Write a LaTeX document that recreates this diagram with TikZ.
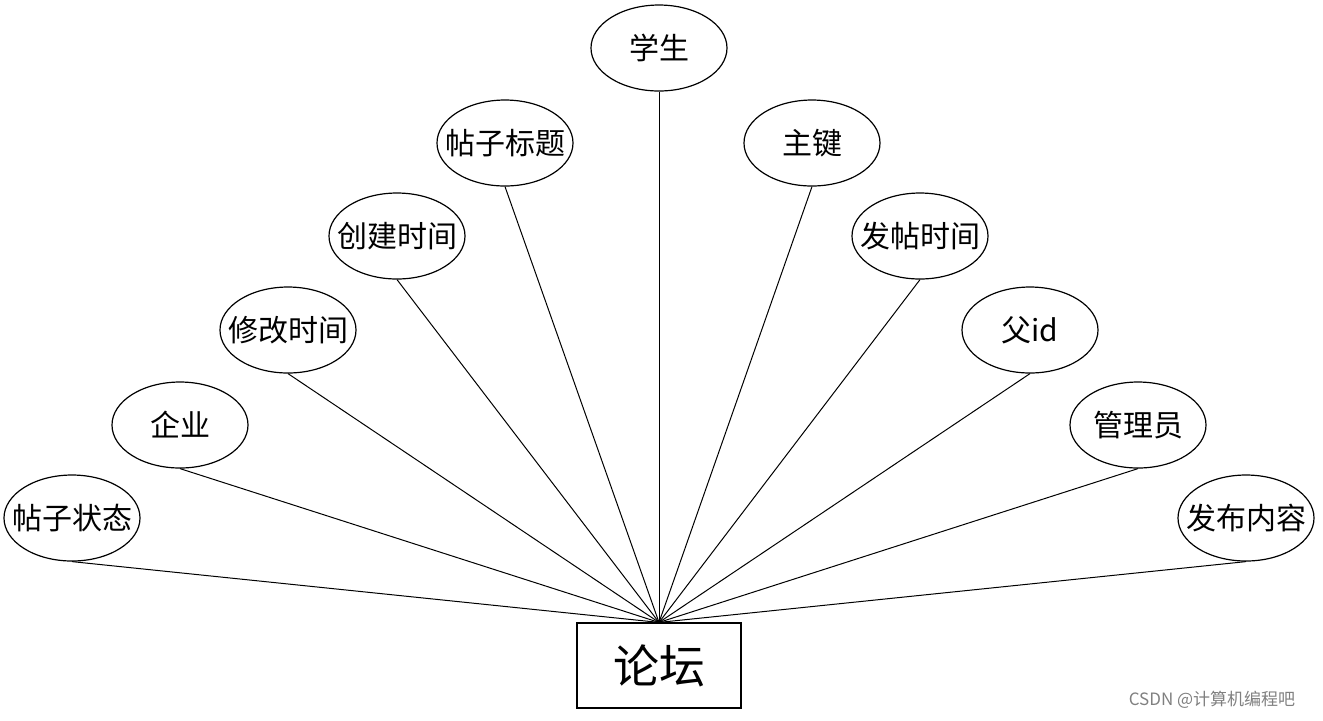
\documentclass[tikz,border=0pt]{standalone}
\usepackage{fontspec}
\setmainfont{Noto Sans CJK SC}
\usetikzlibrary{shapes.geometric}
\begin{document}
\begin{tikzpicture}[x=0.5pt,y=-0.5pt,
 attr/.style={draw,ellipse,minimum width=68pt,minimum height=43pt,inner xsep=-6.5pt,inner ysep=0pt,font=\fontsize{15}{15}\selectfont,line width=0.6pt},
 ent/.style={draw,rectangle,minimum width=82pt,minimum height=42.5pt,font=\fontsize{23}{23}\selectfont,line width=0.6pt},
 lnk/.style={line width=0.5pt}]
\useasboundingbox (0,0) rectangle (1323,720);
\node[ent] (r) at (659,665.5) {论坛};
\node[attr] (a1) at (659,48) {学生};
\node[attr] (a2) at (505,143) {帖子标题};
\node[attr] (a3) at (812,143) {主键};
\node[attr] (a4) at (397,236) {创建时间};
\node[attr] (a5) at (920,236) {发帖时间};
\node[attr] (a6) at (288,330) {修改时间};
\node[attr] (a7) at (1030,330) {父id};
\node[attr] (a8) at (180,425) {企业};
\node[attr] (a9) at (1138,425) {管理员};
\node[attr] (a10) at (72,518) {帖子状态};
\node[attr] (a11) at (1246,518) {发布内容};
\foreach \n in {a1,a2,a3,a4,a5,a6,a7,a8,a9,a10,a11} \draw[lnk] (\n.south) -- (r.north);
\node[text=gray,font=\fontsize{8.5}{8.5}\selectfont] (wm) at (1212,700) {CSDN @计算机编程吧};
\end{tikzpicture}
\end{document}
